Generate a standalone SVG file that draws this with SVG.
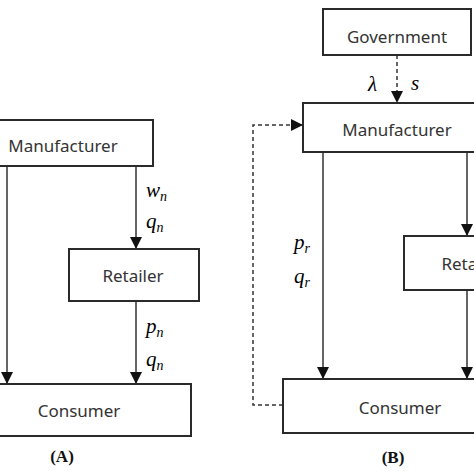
<svg xmlns="http://www.w3.org/2000/svg" width="474" height="474" viewBox="0 0 474 474">
<style>
.box{fill:#fff;stroke:#2a2a2a;stroke-width:2}
.lbl{font-family:"Noto Sans","DejaVu Sans",sans-serif;font-size:17px;fill:#333;text-anchor:middle}
.m{font-family:"Liberation Serif",serif;font-style:italic;font-size:21px;fill:#000}
.sub{font-size:14px}
.cap{font-family:"Liberation Serif",serif;font-weight:bold;font-size:17px;fill:#111;text-anchor:middle}
.ln{stroke:#333;stroke-width:1.5;fill:none}
.dl{stroke:#333;stroke-width:1.5;fill:none;stroke-dasharray:4 3}
</style>
<defs>
<marker id="ah" markerWidth="12" markerHeight="12" refX="12" refY="6" orient="auto" markerUnits="userSpaceOnUse" viewBox="0 0 12 12">
<path d="M0,0 L12,6 L0,12 Z" fill="#111"/>
</marker>
</defs>
<g id="connectors">
<line class="ln" x1="7" y1="166" x2="7" y2="384" marker-end="url(#ah)"/>
<line class="ln" x1="136" y1="166" x2="136" y2="249" marker-end="url(#ah)"/>
<line class="ln" x1="136" y1="301" x2="136" y2="384" marker-end="url(#ah)"/>
<line class="dl" x1="397" y1="55" x2="397" y2="103" marker-end="url(#ah)"/>
<polyline class="dl" points="283,405 253,405 253,125 303,125" marker-end="url(#ah)"/>
<line class="ln" x1="323" y1="152" x2="323" y2="379" marker-end="url(#ah)"/>
<line class="ln" x1="467" y1="152" x2="467" y2="236" marker-end="url(#ah)"/>
<line class="ln" x1="467" y1="290" x2="467" y2="379" marker-end="url(#ah)"/>
<text class="m" x="146" y="197">w<tspan class="sub" dy="4">n</tspan></text>
<text class="m" x="146" y="228">q<tspan class="sub" dy="4">n</tspan></text>
<text class="m" x="146" y="333">p<tspan class="sub" dy="4">n</tspan></text>
<text class="m" x="146" y="366">q<tspan class="sub" dy="4">n</tspan></text>
<text class="m" x="368" y="91">λ</text>
<text class="m" x="411" y="90">s</text>
<text class="m" x="294" y="249">p<tspan class="sub" dy="4">r</tspan></text>
<text class="m" x="294" y="283">q<tspan class="sub" dy="4">r</tspan></text>
</g>
<g id="manufacturerA">
<rect class="box" x="-10" y="120" width="163" height="46"/>
<text class="lbl" x="63" y="152">Manufacturer</text>
</g>
<g id="retailerA">
<rect class="box" x="69" y="249" width="130" height="52"/>
<text class="lbl" x="133" y="282">Retailer</text>
</g>
<g id="consumerA">
<rect class="box" x="-10" y="384" width="201" height="52"/>
<text class="lbl" x="79" y="417">Consumer</text>
</g>
<text class="cap" x="62" y="462">(A)</text>
<g id="government">
<rect class="box" x="323" y="9" width="148" height="46"/>
<text class="lbl" x="397" y="43">Government</text>
</g>
<g id="manufacturerB">
<rect class="box" x="303" y="103" width="190" height="49"/>
<text class="lbl" x="397" y="136">Manufacturer</text>
</g>
<g id="retailerB">
<rect class="box" x="404" y="236" width="100" height="54"/>
<text class="lbl" x="472" y="270">Retailer</text>
</g>
<g id="consumerB">
<rect class="box" x="283" y="379" width="220" height="54"/>
<text class="lbl" x="400" y="414">Consumer</text>
</g>
<text class="cap" x="393" y="463">(B)</text>
</svg>
